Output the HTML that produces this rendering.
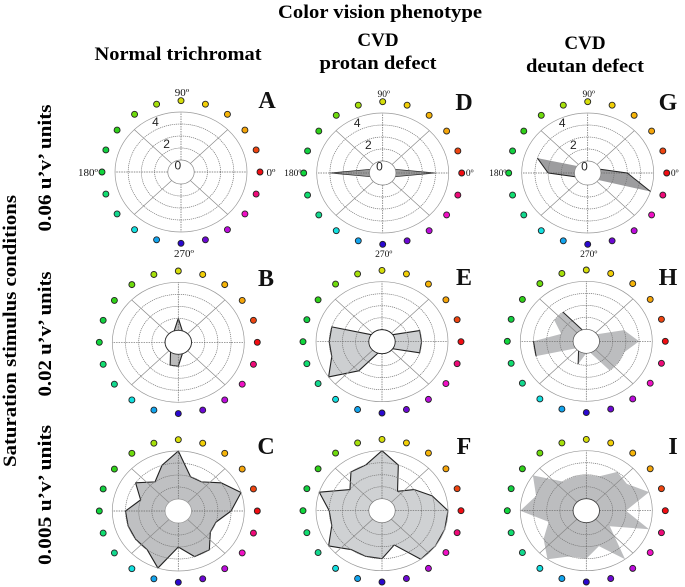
<!DOCTYPE html>
<html>
<head>
<meta charset="utf-8">
<style>
html,body{margin:0;padding:0;background:#fff;}
svg{display:block;}
text{font-family:"Liberation Serif",serif;fill:#111;}
.h{font-weight:bold;fill:#000;}
</style>
</head>
<body>
<svg id="chart" width="685" height="587" viewBox="0 0 685 587" xmlns="http://www.w3.org/2000/svg">
<rect width="685" height="587" fill="#fff"/>
<text class="h" x="380" y="18" text-anchor="middle" font-size="19" textLength="204" lengthAdjust="spacingAndGlyphs">Color vision phenotype</text>
<text class="h" x="178" y="60" text-anchor="middle" font-size="19" textLength="167" lengthAdjust="spacingAndGlyphs">Normal trichromat</text>
<text class="h" x="378" y="46" text-anchor="middle" font-size="19">CVD</text>
<text class="h" x="378" y="69" text-anchor="middle" font-size="19" textLength="117" lengthAdjust="spacingAndGlyphs">protan defect</text>
<text class="h" x="585" y="49" text-anchor="middle" font-size="19">CVD</text>
<text class="h" x="585" y="72" text-anchor="middle" font-size="19" textLength="118" lengthAdjust="spacingAndGlyphs">deutan defect</text>
<text class="h" transform="translate(16,331) rotate(-90)" text-anchor="middle" font-size="19" textLength="272" lengthAdjust="spacingAndGlyphs">Saturation stimulus conditions</text>
<text class="h" transform="translate(51,168) rotate(-90)" text-anchor="middle" font-size="19" textLength="127" lengthAdjust="spacingAndGlyphs">0.06 u’v’ units</text>
<text class="h" transform="translate(51,334) rotate(-90)" text-anchor="middle" font-size="19" textLength="125" lengthAdjust="spacingAndGlyphs">0.02 u’v’ units</text>
<text class="h" transform="translate(51,495) rotate(-90)" text-anchor="middle" font-size="19" textLength="140" lengthAdjust="spacingAndGlyphs">0.005 u’v’ units</text>
<g id="panels"></g>
</svg>
<script>
// Hue angle (degrees) of each stimulus direction
const hueAngles = [0,18,36,54,72,90,108,126,144,162,180,198,216,234,252,270,288,306,324,342];
const hueColors = ['#f20d12','#ee4410','#f5a50a','#f6b408','#f2cf06','#d6de0a','#a6e00a','#6edb0c','#2fd018','#12d040','#10d63c','#10dd70','#12d88e','#12e0e0','#12a4ee','#2a08d0','#6c08d4','#bc0cdc','#f010c4','#ee0a78'];
const ringTicks = [0,1,2,3,4];
const spokeAngles = [0,45,90,135,180,225,270,315];
const tickValues = [0,2,4];
const tickLabels = ['0','2','4'];
const angleTicks = [0,90,180,270];
const angleTickLabels = ['0º','90º','180º','270º'];

// Series values, one per hue angle
const valuesA = [0,0,0,0,0,0,0,0,0,0,0,0,0,0,0,0,0,0,0,0];
const valuesB = [0,0,0,0,0,1,0,0,0,0,0,0,0,0,1,1,0,0,0,0];
const valuesC = [3,4,3,2,2,4,3,2,3,2,3,3,3,3,4,2,3,3,2,2];
const valuesD = [3,0,0,0,0,0,0,0,0,0,3,0,0,0,0,0,0,0,0,0];
const valuesE = [2,2,0,0,0,0,0,0,0,3,3,3,4,2,0,0,0,0,0,2];
const valuesF = [4,3,2,1,3,4,3,3,2,4,3,3,4,3,3,3,2,4,4,4];
const valuesG = [2,0,0,0,0,0,0,0,0,3,2,0,0,0,0,0,0,0,0,4];
const valuesH = [3,2,0,0,0,0,0,2,2,1,3,3,0,0,1,0,0,2,2,2];
const valuesI = [2,4,2.8,3,2,2,2,2,4,3,4,2,3,4,3,3,2.1,4,1.2,4];

const RX = 66, RY = 60, DOT_RX = 79, DOT_RY = 71.3, V_MAX = 4, V_HOLE = 1;
const NS = 'http://www.w3.org/2000/svg';
const root = document.getElementById('panels');

function radiusFrac(v){ return (v + V_HOLE) / (V_MAX + V_HOLE); }
function px(cx, frac, deg, r){ return cx + frac * r * Math.cos(deg * Math.PI / 180); }
function py(cy, frac, deg, r){ return cy - frac * r * Math.sin(deg * Math.PI / 180); }
function make(tag, parent, attrs){
  const el = document.createElementNS(NS, tag);
  for (const k in attrs) el.setAttribute(k, attrs[k]);
  parent.appendChild(el);
  return el;
}

function drawPanel(id, cx, cy, values, style){
  const g = make('g', root, {});
  
  

  // Stimulus hue dots
  hueAngles.forEach(function(a, i){
    const dot = make('circle', g, {cx: px(cx,1,a,DOT_RX), cy: py(cy,1,a,DOT_RY), r: 3, fill: hueColors[i], stroke: '#222', 'stroke-width': 0.9});
    
    
  });

  // Series polygon
  const pts = hueAngles.map(function(a, i){
    const f = radiusFrac(values[i]);
    return [px(cx,f,a,RX), py(cy,f,a,RY)];
  });
  const poly = make('polygon', g, {points: pts.map(function(p){return p[0].toFixed(2)+','+p[1].toFixed(2);}).join(' '), fill: style.fill || 'none', stroke: style.edges === 'all' ? '#222' : 'none', 'stroke-width': style.edgeWidth || 1.1, 'stroke-linejoin': 'round'});
  
  

  // Grid
  ringTicks.slice(1).forEach(function(t){
    const f = radiusFrac(t);
    const ring = make('ellipse', g, {cx: cx, cy: cy, rx: f*RX, ry: f*RY, fill: 'none', stroke: t === V_MAX ? '#999' : '#777', 'stroke-width': 0.7, 'stroke-dasharray': t === V_MAX ? 'none' : '1.2 0.8'});
    
    
  });
  spokeAngles.forEach(function(a){
    const f0 = radiusFrac(0), f1 = radiusFrac(V_MAX);
    const axial = a % 90 === 0;
    const spoke = make('line', g, {x1: px(cx,f0,a,RX), y1: py(cy,f0,a,RY), x2: px(cx,f1,a,RX), y2: py(cy,f1,a,RY), stroke: axial ? '#666' : '#8a8a8a', 'stroke-width': 0.7, 'stroke-dasharray': axial ? '1.5 1' : 'none'});
    
    
  });

  // Partial dark edges
  if (Array.isArray(style.edges)) {
    style.edges.forEach(function(i){
      const a = pts[i], b = pts[(i + 1) % pts.length];
      const edge = make('line', g, {x1: a[0], y1: a[1], x2: b[0], y2: b[1], stroke: '#222', 'stroke-width': 1});
      
      
    });
  }

  // Central hole
  const f0 = radiusFrac(0);
  const hole = make('ellipse', g, {cx: cx, cy: cy, rx: f0*RX, ry: f0*RY, fill: '#fff', stroke: style.hole || '#888', 'stroke-width': style.holeWidth || 0.7});
  
  

  // Axis labels (top row only)
  if (style.axisFont) {
    tickValues.forEach(function(v, i){
      const f = 0.115 + 0.2 * v;
      const t = make('text', g, {x: px(cx,f,115,RX), y: py(cy,f,115,RY) + 4, 'text-anchor': 'middle', 'font-size': 12, style: 'font-family:\"Liberation Sans\",sans-serif;fill:#222'});
      t.textContent = tickLabels[i];
      
      
    });
    angleTicks.forEach(function(a, i){
      const ox = style.labelX[i], oy = style.labelY[i];
      const t = make('text', g, {x: cx + ox, y: cy + oy, 'text-anchor': 'middle', 'font-size': style.axisFont});
      t.textContent = angleTickLabels[i];
      
      
    });
  }

  // Panel letter
  const letter = make('text', g, {x: style.lx, y: style.ly, 'text-anchor': 'middle', 'font-size': 24, 'font-weight': 'bold', fill: '#000'});
  letter.textContent = id;
  
  
}

drawPanel('A',181,172,valuesA,{lx:267,ly:108,axisFont:11,labelX:[90,1,-93,3],labelY:[4,-76,4,85]});
drawPanel('B',178.3,342.3,valuesB,{fill:'#bcbcbc',edges:'all',hole:'#333',holeWidth:0.9,lx:266,ly:286});
drawPanel('C',178.3,511,valuesC,{fill:'#bfc0c2',edges:'all',hole:'#999',lx:266,ly:454});
drawPanel('D',382.7,173,valuesD,{fill:'#999',edges:'all',edgeWidth:0.7,lx:464,ly:110,axisFont:9.5,labelX:[87,1,-90,1],labelY:[3,-76,3,84]});
drawPanel('E',382,341.7,valuesE,{fill:'#cdcfd1',edges:'all',hole:'#222',holeWidth:0.9,lx:464,ly:285});
drawPanel('F',382,510.7,valuesF,{fill:'#cfd1d3',edges:'all',hole:'#777',lx:464,ly:454});
drawPanel('G',587.7,173,valuesG,{fill:'#9d9d9f',edges:[0,9,10,19],lx:668,ly:110,axisFont:9.5,labelX:[87,1,-90,1],labelY:[3,-76,3,84]});
drawPanel('H',586.3,341.3,valuesH,{fill:'#bcbdbf',edges:[6,10,13],hole:'#555',lx:668,ly:285});
drawPanel('I',586.3,510.7,valuesI,{fill:'#bcbdbf',edges:[],hole:'#444',holeWidth:0.9,lx:673,ly:454});
</script>
</body>
</html>
